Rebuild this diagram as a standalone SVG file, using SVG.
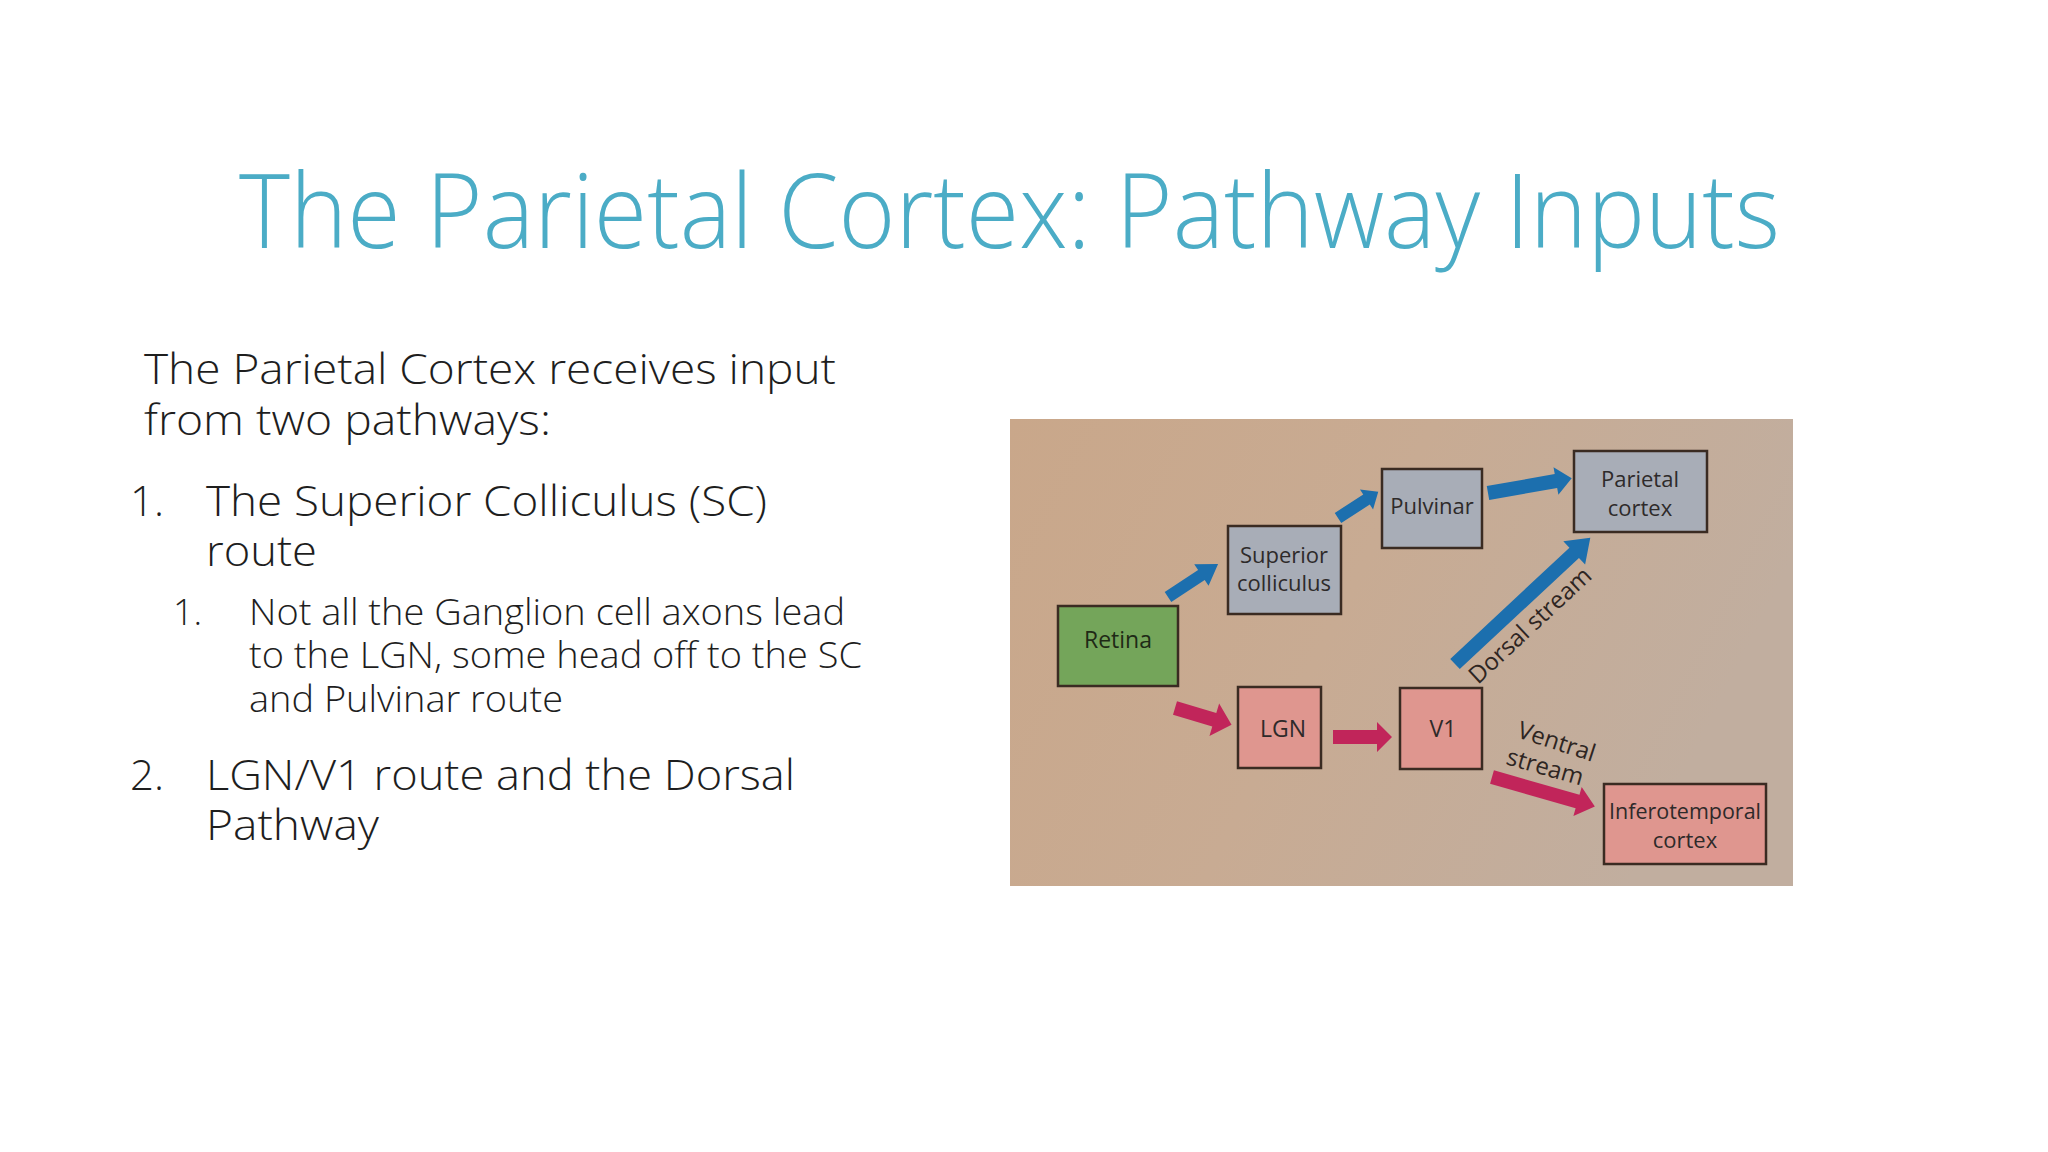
<svg xmlns="http://www.w3.org/2000/svg" width="2048" height="1152" viewBox="0 0 2048 1152">
<defs>
<linearGradient id="photo" x1="0" y1="0" x2="1" y2="0.3">
<stop offset="0" stop-color="#c9a78a"/>
<stop offset="0.5" stop-color="#c8ab93"/>
<stop offset="1" stop-color="#c1ae9f"/>
</linearGradient>
<style>
.title{font-family:"Open Sans","Liberation Sans",sans-serif;font-weight:300;font-size:104px;fill:#4bacc6}
.body{font-family:"Open Sans","Liberation Sans",sans-serif;font-weight:300;font-size:42px;fill:#1e1e1e}
.sub{font-family:"Open Sans","Liberation Sans",sans-serif;font-weight:300;font-size:36px;fill:#1e1e1e}
.box{stroke:#3a2b22;stroke-width:2.5}
.green{fill:#74a55a}
.grey{fill:#a8adb7}
.pink{fill:#df968f}
.nt{font-family:"Open Sans","Liberation Sans",sans-serif;font-size:22px;fill:#2e2a2a;text-anchor:middle}
.lbl{font-family:"Open Sans","Liberation Sans",sans-serif;font-size:24px;fill:#2e2522}
.blue{fill:#1c6fae}
.mag{fill:#c1255a}
</style>
</defs>
<rect width="2048" height="1152" fill="#ffffff"/>
<text class="title" x="239" y="248" textLength="1541" lengthAdjust="spacingAndGlyphs">The Parietal Cortex: Pathway Inputs</text>
<g id="bullets">
<text class="body" x="144" y="384" textLength="692" lengthAdjust="spacingAndGlyphs">The Parietal Cortex receives input</text>
<text class="body" x="144" y="435" textLength="407" lengthAdjust="spacingAndGlyphs">from two pathways:</text>
<text class="body" x="130" y="516">1.</text>
<text class="body" x="206" y="516" textLength="561" lengthAdjust="spacingAndGlyphs">The Superior Colliculus (SC)</text>
<text class="body" x="206" y="566" textLength="111" lengthAdjust="spacingAndGlyphs">route</text>
<text class="sub" x="173" y="625">1.</text>
<text class="sub" x="249" y="625" textLength="596" lengthAdjust="spacingAndGlyphs">Not all the Ganglion cell axons lead</text>
<text class="sub" x="249" y="668" textLength="613" lengthAdjust="spacingAndGlyphs">to the LGN, some head off to the SC</text>
<text class="sub" x="249" y="712" textLength="314" lengthAdjust="spacingAndGlyphs">and Pulvinar route</text>
<text class="body" x="130" y="790">2.</text>
<text class="body" x="206" y="790" textLength="589" lengthAdjust="spacingAndGlyphs">LGN/V1 route and the Dorsal</text>
<text class="body" x="206" y="840" textLength="173" lengthAdjust="spacingAndGlyphs">Pathway</text>
</g>
<rect id="photo-bg" x="1010" y="419" width="783" height="467" fill="url(#photo)"/>
<g id="connectors">
<polygon class="blue" transform="translate(1168,597) rotate(-33.4)" points="0,-6 40,-6 40,-13 60,0 40,13 40,6 0,6"/>
<polygon class="blue" transform="translate(1338,518) rotate(-33)" points="0,-6 34,-6 34,-12 48,0 34,12 34,6 0,6"/>
<polygon class="blue" transform="translate(1488,493) rotate(-10)" points="0,-7 69,-7 69,-14 85,0 69,14 69,7 0,7"/>
<polygon class="blue" transform="translate(1455,664) rotate(-43)" points="0,-7 163,-7 163,-16 185,0 163,16 163,7 0,7"/>
<polygon class="mag" transform="translate(1175,708) rotate(16.6)" points="0,-7 41,-7 41,-17 59,0 41,17 41,7 0,7"/>
<polygon class="mag" transform="translate(1333,737) rotate(0)" points="0,-7 44,-7 44,-15 59,0 44,15 44,7 0,7"/>
<polygon class="mag" transform="translate(1492,777) rotate(16)" points="0,-7 89,-7 89,-15 107,0 89,15 89,7 0,7"/>
<text class="lbl" transform="translate(1478,685) rotate(-43)">Dorsal stream</text>
<text class="lbl" transform="translate(1516,737) rotate(18)">Ventral</text>
<text class="lbl" transform="translate(1505,764) rotate(16)">stream</text>
</g>
<g id="retina">
<rect class="box green" x="1058" y="606" width="120" height="80"/>
<text class="nt" x="1118" y="648" style="fill:#1f2a16;font-size:23px">Retina</text>
</g>
<g id="superior-colliculus">
<rect class="box grey" x="1228" y="526" width="113" height="88"/>
<text class="nt" x="1284" y="563">Superior</text>
<text class="nt" x="1284" y="591">colliculus</text>
</g>
<g id="pulvinar">
<rect class="box grey" x="1382" y="469" width="100" height="79"/>
<text class="nt" x="1432" y="514">Pulvinar</text>
</g>
<g id="parietal-cortex">
<rect class="box grey" x="1574" y="451" width="133" height="81"/>
<text class="nt" x="1640" y="487">Parietal</text>
<text class="nt" x="1640" y="516">cortex</text>
</g>
<g id="lgn">
<rect class="box pink" x="1238" y="687" width="83" height="81"/>
<text class="nt" x="1283" y="737" style="font-size:23px">LGN</text>
</g>
<g id="v1">
<rect class="box pink" x="1400" y="688" width="82" height="81"/>
<text class="nt" x="1443" y="737" style="font-size:23px">V1</text>
</g>
<g id="inferotemporal-cortex">
<rect class="box pink" x="1604" y="784" width="162" height="80"/>
<text class="nt" x="1685" y="819" textLength="152" lengthAdjust="spacingAndGlyphs">Inferotemporal</text>
<text class="nt" x="1685" y="848">cortex</text>
</g>
</svg>
